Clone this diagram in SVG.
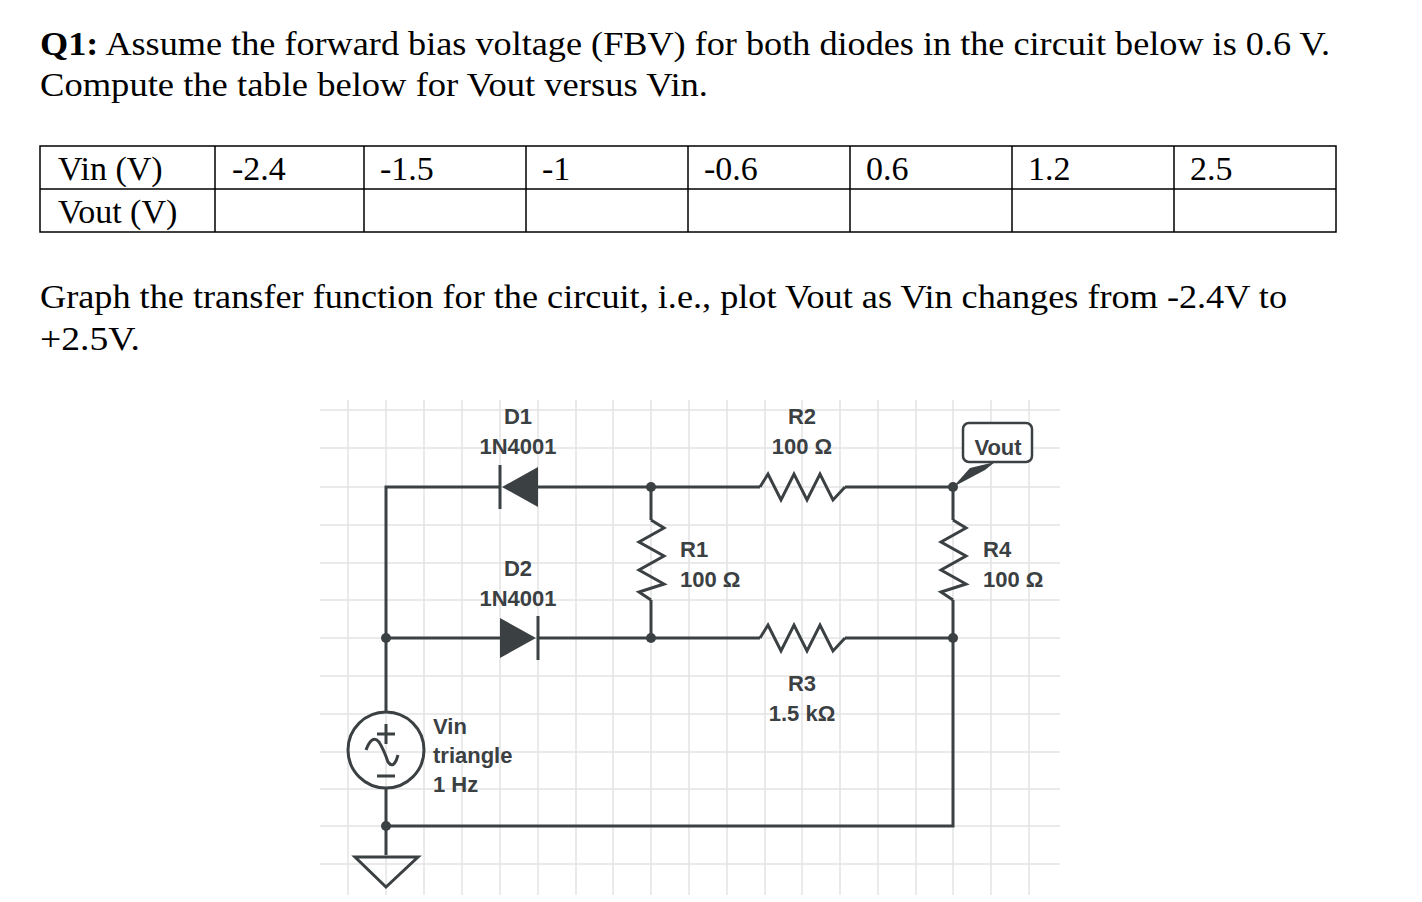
<svg xmlns="http://www.w3.org/2000/svg" width="1422" height="902" viewBox="0 0 1422 902">
<style>
.t{font-family:"Liberation Serif",serif;font-size:34px;fill:#000}
.c{font-family:"Liberation Sans",sans-serif;font-size:22px;font-weight:bold;fill:#3b4043;text-anchor:middle}
.cl{font-family:"Liberation Sans",sans-serif;font-size:22px;font-weight:bold;fill:#3b4043}
.w{stroke:#3b4043;stroke-width:3;fill:none}
.g{stroke:#e4e4e4;stroke-width:1.5}
.tb{stroke:#000;stroke-width:1.5;fill:none}
</style>
<rect width="1422" height="902" fill="#fff"/>
<text class="t" x="40" y="55" textLength="1290" lengthAdjust="spacingAndGlyphs"><tspan font-weight="bold">Q1:</tspan> Assume the forward bias voltage (FBV) for both diodes in the circuit below is 0.6 V.</text>
<text class="t" x="40" y="96" textLength="668" lengthAdjust="spacingAndGlyphs">Compute the table below for Vout versus Vin.</text>
<g id="table">
<rect class="tb" x="40" y="146" width="1296" height="86"/>
<line class="tb" x1="40" y1="189" x2="1336" y2="189"/>
<path class="tb" d="M215 146V232M364 146V232M526 146V232M688 146V232M850 146V232M1012 146V232M1174 146V232"/>
<text class="t" x="58" y="180">Vin (V)</text>
<text class="t" x="58" y="223">Vout (V)</text>
<text class="t" x="232" y="180">-2.4</text>
<text class="t" x="380" y="180">-1.5</text>
<text class="t" x="542" y="180">-1</text>
<text class="t" x="704" y="180">-0.6</text>
<text class="t" x="866" y="180">0.6</text>
<text class="t" x="1028" y="180">1.2</text>
<text class="t" x="1190" y="180">2.5</text>
</g>
<text class="t" x="40" y="308" textLength="1247" lengthAdjust="spacingAndGlyphs">Graph the transfer function for the circuit, i.e., plot Vout as Vin changes from -2.4V to</text>
<text class="t" x="40" y="350" textLength="100" lengthAdjust="spacingAndGlyphs">+2.5V.</text>
<g id="grid">
<path class="g" d="M348 400V895M386 400V895M424 400V895M462 400V895M500 400V895M538 400V895M576 400V895M613 400V895M651 400V895M689 400V895M727 400V895M765 400V895M802 400V895M840 400V895M878 400V895M916 400V895M953 400V895M991 400V895M1029 400V895"/>
<path class="g" d="M320 410H1060M320 448H1060M320 487H1060M320 525H1060M320 563H1060M320 600H1060M320 638H1060M320 676H1060M320 714H1060M320 752H1060M320 789H1060M320 826H1060M320 864H1060"/>
</g>
<g id="connectors">
<path class="w" d="M386 712V487H500M538 487H760M845 487H953M651 487V520M651 600V638M386 638H500M538 638H760M845 638H953M953 487V520M953 600V826H386M386 788V855"/>
</g>
<g id="D1"><path d="M538 467V507L502 487Z" fill="#3b4043"/><line class="w" x1="500" y1="465" x2="500" y2="509"/><text class="c" x="518" y="424">D1</text><text class="c" x="518" y="454">1N4001</text></g>
<g id="D2"><path d="M500 618V658L536 638Z" fill="#3b4043"/><line class="w" x1="538" y1="616" x2="538" y2="660"/><text class="c" x="518" y="576">D2</text><text class="c" x="518" y="606">1N4001</text></g>
<g id="R1"><path class="w" d="M651 520L664 528L639 542L664 556L639 570L664 584L639 592L651 600"/><text class="cl" x="680" y="557">R1</text><text class="cl" x="680" y="587">100 Ω</text></g>
<g id="R4"><path class="w" d="M953 520L966 528L941 542L966 556L941 570L966 584L941 592L953 600"/><text class="cl" x="983" y="557">R4</text><text class="cl" x="983" y="587">100 Ω</text></g>
<g id="R2"><path class="w" d="M760 487L768 474L781 500L794 474L807 500L820 474L833 500L845 487"/><text class="c" x="802" y="424">R2</text><text class="c" x="802" y="454">100 Ω</text></g>
<g id="R3"><path class="w" d="M760 638L768 625L781 651L794 625L807 651L820 625L833 651L845 638"/><text class="c" x="802" y="691">R3</text><text class="c" x="802" y="721">1.5 kΩ</text></g>
<g id="nodes" fill="#3b4043"><circle cx="651" cy="487" r="5"/><circle cx="953" cy="487" r="5"/><circle cx="386" cy="638" r="5"/><circle cx="651" cy="638" r="5"/><circle cx="953" cy="638" r="5"/><circle cx="386" cy="826" r="5"/></g>
<g id="Vout"><path d="M953 487L970 468L995 462L985 470Z" fill="#3b4043"/><rect x="963" y="423" width="69" height="39" rx="6" fill="#fff" stroke="#3b4043" stroke-width="2.5"/><text class="c" x="998" y="455">Vout</text></g>
<g id="Vin"><circle class="w" cx="386" cy="750" r="38"/><path class="w" stroke-width="2" d="M386 724V744M377 734H395M377 776H395M366 750Q372 734 379 742Q384 750 388 762Q394 770 398 755"/><text class="cl" x="433" y="734">Vin</text><text class="cl" x="433" y="763">triangle</text><text class="cl" x="433" y="792">1 Hz</text></g>
<g id="ground"><path class="w" d="M355 857H418L386 887Z"/></g>
</svg>
